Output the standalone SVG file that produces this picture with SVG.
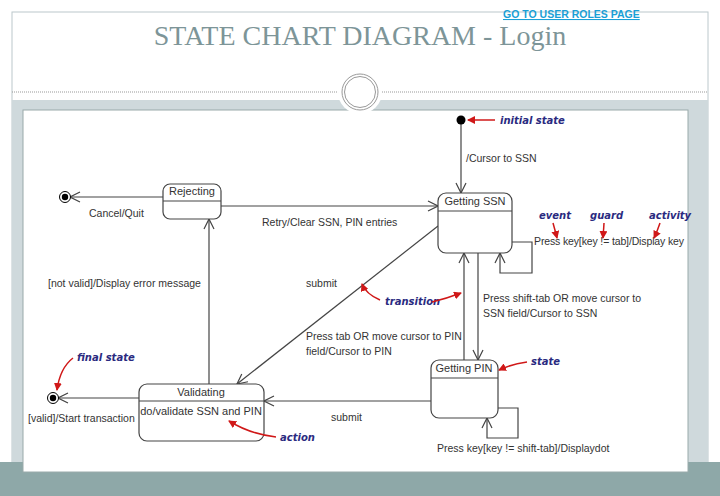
<svg xmlns="http://www.w3.org/2000/svg" width="720" height="496" viewBox="0 0 720 496">
<defs>
<marker id="oa" markerWidth="12" markerHeight="12" refX="11" refY="6" orient="auto" markerUnits="userSpaceOnUse"><path d="M1,1 L11,6 L1,11" fill="none" stroke="#444" stroke-width="1.2"/></marker>
<marker id="ra" markerWidth="8" markerHeight="8" refX="7" refY="4" orient="auto" markerUnits="userSpaceOnUse"><path d="M0,0 L8,4 L0,8 z" fill="#d01818"/></marker>
<style>
.st{fill:#fff;stroke:#444;stroke-width:1.2}
.ln{fill:none;stroke:#444;stroke-width:1.2}
.t{font-family:"Liberation Sans",Arial,sans-serif;font-size:10.5px;fill:#333}
.n{font-family:"Liberation Sans",Arial,sans-serif;font-size:11px;fill:#333;text-anchor:middle}
.a{font-family:"DejaVu Sans",sans-serif;font-size:10px;font-style:italic;font-weight:bold;fill:#2a2a80}
.r{fill:none;stroke:#d01818;stroke-width:1.5}
</style>
</defs>
<rect x="0" y="0" width="720" height="496" fill="#fff"/>
<rect x="12" y="12" width="696" height="480" fill="none" stroke="#bcc8cc"/>
<rect x="12" y="100" width="696" height="362" fill="#cfd9dc"/>
<rect x="0" y="462" width="720" height="34" fill="#8ea8a8"/>
<rect x="23" y="110" width="665" height="362" fill="#fff" stroke="#9aa" stroke-width="1"/>
<line x1="12" y1="92" x2="708" y2="92" stroke="#999" stroke-dasharray="1,1"/>
<circle cx="360" cy="92" r="22" fill="#fff"/>
<circle cx="360" cy="92" r="18" fill="none" stroke="#999" stroke-width="1"/>
<circle cx="360" cy="92" r="15.5" fill="none" stroke="#999" stroke-width="1"/>
<text x="360" y="45" font-family="'Liberation Serif','Times New Roman',serif" font-size="28" fill="#7d9598" text-anchor="middle">STATE CHART DIAGRAM - Login</text>
<text x="503" y="18" font-family="'Liberation Sans',Arial,sans-serif" font-size="10.5" font-weight="bold" fill="#1a9fd6" text-decoration="underline">GO TO USER ROLES PAGE</text>

<g id="connectors">
<line class="ln" x1="461" y1="124" x2="461" y2="193" marker-end="url(#oa)"/>
<line class="ln" x1="163" y1="197" x2="70" y2="197" marker-end="url(#oa)"/>
<line class="ln" x1="221" y1="206" x2="438" y2="206" marker-end="url(#oa)"/>
<line class="ln" x1="209" y1="384" x2="209" y2="219" marker-end="url(#oa)"/>
<line class="ln" x1="438" y1="226" x2="237" y2="384" marker-end="url(#oa)"/>
<line class="ln" x1="464" y1="360" x2="464" y2="253" marker-end="url(#oa)"/>
<line class="ln" x1="478" y1="253" x2="478" y2="360" marker-end="url(#oa)"/>
<polyline class="ln" points="512,242 532,242 532,273 500,273 500,253" marker-end="url(#oa)"/>
<polyline class="ln" points="498,408 518,408 518,438 487,438 487,418" marker-end="url(#oa)"/>
<line class="ln" x1="431" y1="401" x2="264" y2="401" marker-end="url(#oa)"/>
<line class="ln" x1="139" y1="398" x2="58" y2="398" marker-end="url(#oa)"/>
<text class="t" x="466" y="162">/Cursor to SSN</text>
<text class="t" x="89" y="217">Cancel/Quit</text>
<text class="t" x="262" y="226">Retry/Clear SSN, PIN entries</text>
<text class="t" x="48" y="287">[not valid]/Display error message</text>
<text class="t" x="306" y="287">submit</text>
<text class="t" x="306" y="340">Press tab OR move cursor to PIN</text>
<text class="t" x="306" y="355">field/Cursor to PIN</text>
<text class="t" x="483" y="302">Press shift-tab OR move cursor to</text>
<text class="t" x="483" y="317">SSN field/Cursor to SSN</text>
<text class="t" x="534" y="245" textLength="150">Press key[key != tab]/Display key</text>
<text class="t" x="437" y="452">Press key[key != shift-tab]/Displaydot</text>
<text class="t" x="331" y="421">submit</text>
<text class="t" x="28" y="422">[valid]/Start transaction</text>
</g>

<g id="initial"><circle cx="461" cy="120" r="4.5" fill="#000"/></g>
<g id="final1"><circle cx="65" cy="197" r="5.5" fill="#fff" stroke="#000"/><circle cx="65" cy="197" r="3.2" fill="#000"/></g>
<g id="final2"><circle cx="53" cy="398" r="5.5" fill="#fff" stroke="#000"/><circle cx="53" cy="398" r="3.2" fill="#000"/></g>
<g id="getting-ssn"><rect class="st" x="438" y="193" width="74" height="60" rx="8"/><line class="ln" x1="438" y1="211" x2="512" y2="211"/><text class="n" x="475" y="205">Getting SSN</text></g>
<g id="rejecting"><rect class="st" x="163" y="184" width="58" height="35" rx="7"/><line class="ln" x1="163" y1="201" x2="221" y2="201"/><text class="n" x="192" y="195">Rejecting</text></g>
<g id="validating"><rect class="st" x="139" y="384" width="125" height="57" rx="8"/><line class="ln" x1="139" y1="401" x2="264" y2="401"/><text class="n" x="201" y="396">Validating</text><text class="n" x="201" y="415" font-size="10.5">do/validate SSN and PIN</text></g>
<g id="getting-pin"><rect class="st" x="431" y="360" width="67" height="58" rx="8"/><line class="ln" x1="431" y1="378" x2="498" y2="378"/><text class="n" x="464" y="372">Getting PIN</text></g>

<g id="annotations">
<line class="r" x1="495" y1="120" x2="468" y2="120" marker-end="url(#ra)"/>
<text class="a" x="500" y="124">initial state</text>
<text class="a" x="539" y="219">event</text>
<text class="a" x="590" y="219">guard</text>
<text class="a" x="649" y="219">activity</text>
<path class="r" d="M553,223 Q555,230 557,238" marker-end="url(#ra)"/>
<path class="r" d="M604,223 L603,238" marker-end="url(#ra)"/>
<path class="r" d="M660,223 Q657,232 654,238" marker-end="url(#ra)"/>
<text class="a" x="385" y="305">transition</text>
<path class="r" d="M380,300 Q366,294 362,284" marker-end="url(#ra)"/>
<path class="r" d="M432,302 Q448,298 461,293" marker-end="url(#ra)"/>
<text class="a" x="531" y="365">state</text>
<path class="r" d="M527,362 Q512,364 499,370" marker-end="url(#ra)"/>
<text class="a" x="77" y="361">final state</text>
<path class="r" d="M73,358 Q60,368 57,390" marker-end="url(#ra)"/>
<text class="a" x="280" y="441">action</text>
<path class="r" d="M276,437 Q250,434 229,421" marker-end="url(#ra)"/>
</g>
</svg>
